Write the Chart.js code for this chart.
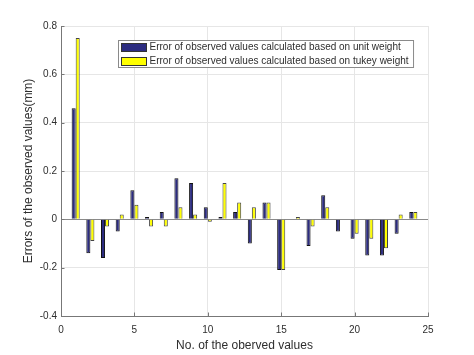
<!DOCTYPE html>
<html>
<head>
<meta charset="utf-8">
<script src="https://cdn.jsdelivr.net/npm/chart.js@4/dist/chart.umd.min.js"></script>
<style>
html,body{margin:0;padding:0;background:#fff;}
#wrap{width:474px;height:355px;position:relative;}
</style>
</head>
<body>
<div id="wrap"><canvas id="c" width="474" height="355"></canvas></div>
<script>
const observations = [1,2,3,4,5,6,7,8,9,10,11,12,13,14,15,16,17,18,19,20,21,22,23,24];
const unitWeightErrors = [0.46,-0.14,-0.16,-0.05,0.12,0.01,0.03,0.17,0.15,0.05,0.01,0.03,-0.10,0.07,-0.21,0.00,-0.11,0.10,-0.05,-0.08,-0.15,-0.15,-0.06,0.03];
const tukeyWeightErrors = [0.75,-0.09,-0.03,0.02,0.06,-0.03,-0.03,0.05,0.02,-0.01,0.15,0.07,0.05,0.07,-0.21,0.01,-0.03,0.05,0.00,-0.06,-0.08,-0.12,0.02,0.03];
const seriesLabels = ['Error of observed values calculated based on unit weight','Error of observed values calculated based on tukey weight'];
const xTicks = [0,5,10,15,20,25];
const xTickLabels = ['0','5','10','15','20','25'];
const yTicks = [-0.4,-0.2,0,0.2,0.4,0.6,0.8];
const yTickLabels = ['-0.4','-0.2','0','0.2','0.4','0.6','0.8'];
const xTitle = 'No. of the oberved values';
const yTitle = 'Errors of the observed values(mm)';

const FONT = '"Liberation Sans", Arial, Helvetica, sans-serif';
const TEXT = '#2e2e2e';

const insideLegend = {
  id: 'insideLegend',
  afterDraw(chart) {
    const ctx = chart.ctx, a = chart.chartArea;
    ctx.save();
    ctx.font = '10px ' + FONT;
    const ds = chart.data.datasets;
    let maxW = 0;
    ds.forEach(d => { maxW = Math.max(maxW, ctx.measureText(d.label).width); });
    const swW = 25, swH = 9, rowH = 14;
    const boxW = 3 + swW + 3 + maxW + 5;
    const boxH = ds.length * rowH - 1;
    const right = a.right - 15;
    const left = Math.round(right - boxW) + 0.5;
    const top = Math.round(a.top + 14) + 0.5;
    ctx.fillStyle = '#fff';
    ctx.fillRect(left, top, boxW, boxH);
    ctx.strokeStyle = '#8a8a8a';
    ctx.lineWidth = 1;
    ctx.strokeRect(left, top, boxW, boxH);
    ds.forEach((d, i) => {
      const cy = top + 6.5 + i * rowH;
      ctx.fillStyle = d.backgroundColor;
      ctx.fillRect(left + 3, Math.round(cy - swH / 2), swW, swH);
      ctx.strokeStyle = '#333';
      ctx.strokeRect(left + 3, Math.round(cy - swH / 2) + 0.5, swW, swH - 1);
      ctx.fillStyle = TEXT;
      ctx.textBaseline = 'middle';
      ctx.textAlign = 'left';
      ctx.fillText(d.label, left + 3 + swW + 3, cy + 0.5);
    });
    ctx.restore();
  }
};

const inwardTicks = {
  id: 'inwardTicks',
  afterDraw(chart) {
    const ctx = chart.ctx, a = chart.chartArea;
    const xs = chart.scales.x, ys = chart.scales.y;
    ctx.save();
    ctx.strokeStyle = '#777';
    ctx.lineWidth = 1;
    ctx.beginPath();
    yTicks.forEach(v => {
      const py = Math.round(ys.getPixelForValue(v)) + 0.5;
      ctx.moveTo(a.left, py); ctx.lineTo(a.left + 3.5, py);
    });
    xTicks.forEach(v => {
      const px = Math.round(xs.getPixelForValue(v)) + 0.5;
      ctx.moveTo(px, a.bottom); ctx.lineTo(px, a.bottom - 3.5);
    });
    ctx.stroke();
    ctx.restore();
  }
};

new Chart(document.getElementById('c'), {
  type: 'bar',
  data: {
    datasets: [
      {
        label: seriesLabels[0],
        data: observations.map((x, i) => ({x: x, y: unitWeightErrors[i]})),
        backgroundColor: '#2c2c80',
        borderColor: '#111',
        borderWidth: 1,
        categoryPercentage: 0.55,
        barPercentage: 1.0
      },
      {
        label: seriesLabels[1],
        data: observations.map((x, i) => ({x: x, y: tukeyWeightErrors[i]})),
        backgroundColor: '#ffff00',
        borderColor: '#444',
        borderWidth: 1,
        categoryPercentage: 0.55,
        barPercentage: 1.0
      }
    ]
  },
  options: {
    responsive: false,
    animation: false,
    layout: {padding: {top: 26, right: 46, left: 0, bottom: 0}},
    plugins: {legend: {display: false}, tooltip: {enabled: false}},
    scales: {
      x: {
        type: 'linear',
        min: 0, max: 25,
        offset: false,
        afterFit: s => { s.height = 39; },
        afterBuildTicks: s => { s.ticks = xTicks.map(v => ({value: v})); },
        ticks: {
          callback: (v, i) => xTickLabels[i],
          font: {family: FONT, size: 10},
          color: TEXT,
          padding: 8,
          maxRotation: 0,
          autoSkip: false
        },
        grid: {color: '#e6e6e6', drawTicks: false, lineWidth: 1, offset: false},
        border: {display: true, color: '#777', width: 1},
        title: {display: true, text: xTitle, font: {family: FONT, size: 12}, color: TEXT, padding: {top: 0, bottom: 2}}
      },
      y: {
        type: 'linear',
        min: -0.4, max: 0.8,
        afterFit: s => { s.width = 61; },
        afterBuildTicks: s => { s.ticks = yTicks.map(v => ({value: v})); },
        ticks: {
          callback: (v, i) => yTickLabels[i],
          font: {family: FONT, size: 10},
          color: TEXT,
          padding: 4,
          autoSkip: false
        },
        grid: {
          color: c => (c.tick && c.tick.value === 0) ? '#8a8a8a' : '#e6e6e6',
          drawTicks: false, lineWidth: 1
        },
        border: {display: true, color: '#777', width: 1},
        title: {display: true, text: yTitle, font: {family: FONT, size: 12}, color: TEXT, padding: {top: 21, bottom: 0}}
      }
    }
  },
  plugins: [insideLegend, inwardTicks]
});
</script>
</body>
</html>
